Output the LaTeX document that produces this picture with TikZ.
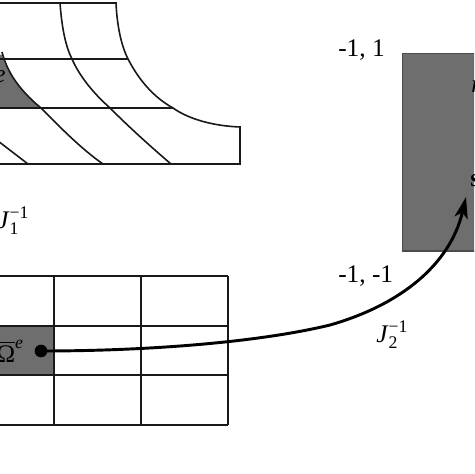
\documentclass[tikz,border=0pt]{standalone}
\usepackage{fontspec}
\usepackage{amsmath}
\setmainfont{Liberation Serif}
\usetikzlibrary{arrows.meta}
\definecolor{cellgray}{gray}{0.43}
\tikzset{
  gridline/.style={draw=black!90,line width=1.2pt},
  lab/.style={inner sep=0pt,font=\fontsize{19}{22}\selectfont},
  arc/.style={line width=2.2pt,-{Stealth[length=16pt,width=10pt,inset=4pt]}}
}
\newcommand{\ital}[1]{\textit{#1}}
\begin{document}
\begin{tikzpicture}[x=0.75pt,y=-0.75pt]
\useasboundingbox (0,0) rectangle (474,474);
\clip (0,0) rectangle (474,474);
% curved mesh
\fill[cellgray] (-2,55) -- (2,55) .. controls (8,76) and (24,94) .. (41,108) -- (-2,108) -- cycle;
\draw[gridline] (-2,3) -- (116,3) .. controls (117,25) and (121,45) .. (128,59) .. controls (140,82) and (155,98) .. (173,108) .. controls (190,120) and (215,126) .. (240,127) -- (240,164) -- (-2,164);
\draw[gridline] (60,3) .. controls (62,30) and (66,47) .. (72,59) .. controls (79,75) and (92,92) .. (110,108) .. controls (130,128) and (150,146) .. (171,164);
\draw[gridline] (-2,59) -- (128,59);
\draw[gridline] (-2,108) -- (173,108);
\draw[gridline] (2,52) .. controls (8,76) and (24,94) .. (41,108) .. controls (58,125) and (80,148) .. (103,164);
\draw[gridline] (-2,141) -- (28,164);
\node[lab,anchor=base] (e1) at (0,83) {\ital{e}};
% regular grid
\fill[cellgray] (-2,326) rectangle (54,376);
\foreach \y in {276,326,375,425} \draw[gridline] (-2,\y) -- (228,\y);
\foreach \x in {54,141,228} \draw[gridline] (\x,276) -- (\x,425);
% reference element
\node[draw=black!70,fill=cellgray,line width=0.9pt,minimum width=90pt,minimum height=148pt,inner sep=0pt,anchor=north west] (ref) at (402,53) {};
\node[lab,anchor=base west] (n1) at (471,93) {\ital{n}};
\node[lab,anchor=base west] (s1) at (470,186) {\textbf{s}};
% connector
\node[circle,fill=black,inner sep=0pt,minimum size=9.5pt] (pt) at (41,351) {};
\coordinate (tip) at (466,197);
\draw[arc] (pt.center) .. controls (150,351) and (260,342) .. (330,325) .. controls (400,305) and (450,265) .. (tip);
% labels
\node[lab,anchor=base west] (om) at (-4,362) {$\overline{\text{Ω}}^{\text{\ital{e}}}$};
\node[lab,anchor=base west] (j1) at (-3,228) {$\text{\ital{J}}_{\text{1}}^{\text{−1}}$};
\node[lab,anchor=base west] (j2) at (376,342) {$\text{\ital{J}}_{\text{2}}^{\text{−1}}$};
\node[lab,anchor=base west] (a) at (338,57) {-1, 1};
\node[lab,anchor=base west] (b) at (338,282) {-1, -1};
\end{tikzpicture}
\end{document}
